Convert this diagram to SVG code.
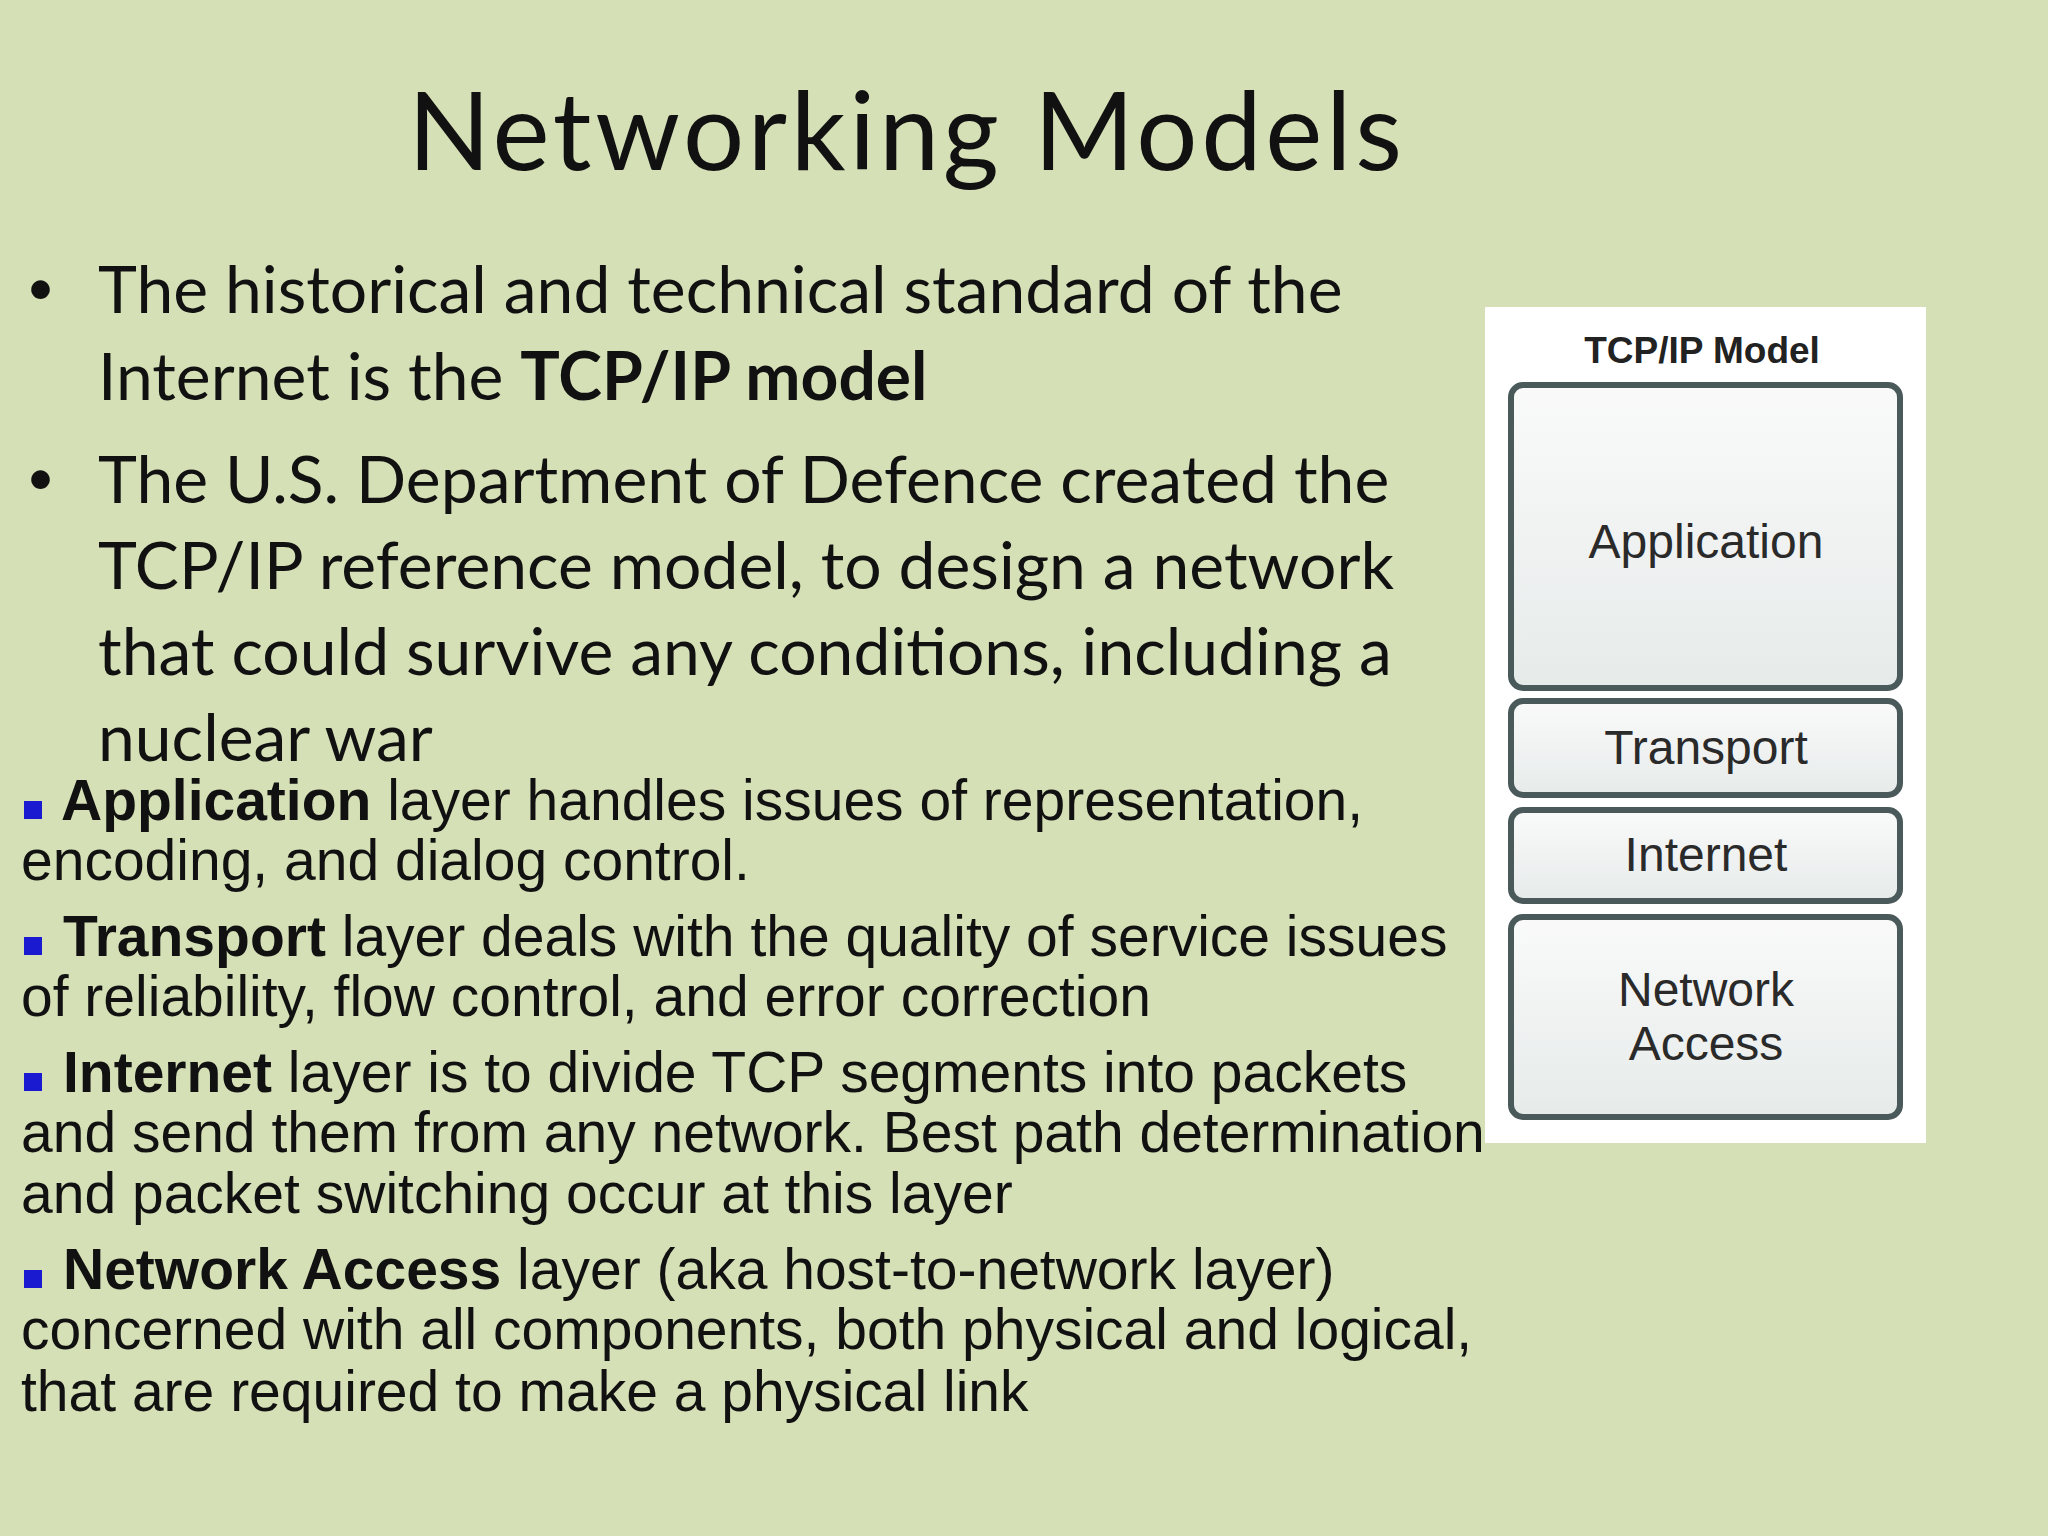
<svg xmlns="http://www.w3.org/2000/svg" width="2048" height="1536" viewBox="0 0 2048 1536">
<style>
.t{font-family:Lato,"Open Sans",sans-serif;font-size:66px;fill:#111}
.b{font-family:Lato,"Open Sans",sans-serif;font-size:50px;fill:#111}
.p{font-family:"Liberation Sans",Arial,sans-serif;font-size:57px;fill:#111}
.l{font-family:"Liberation Sans",Arial,sans-serif;font-size:48px;fill:#2a2a2a;text-anchor:middle}
.box{fill:url(#g);stroke:#4a5a5a;stroke-width:6}
.sq{fill:#1a1ad0}
</style>
<defs><linearGradient id="g" x1="0" y1="0" x2="0" y2="1"><stop offset="0" stop-color="#fafafa"/><stop offset="1" stop-color="#e6ebea"/></linearGradient></defs>
<rect width="2048" height="1536" fill="#d5e0b6"/>
<text x="905" y="170" font-family="Lato,'Open Sans',sans-serif" font-size="108" text-anchor="middle" fill="#111" textLength="994">Networking Models</text>
<g id="bullets">
<text x="26" y="305" class="b">•</text>
<text x="98" y="313" class="t">The historical and technical standard of the</text>
<text x="98" y="400" class="t">Internet is the <tspan font-weight="bold">TCP/IP model</tspan></text>
<text x="26" y="495" class="b">•</text>
<text x="98" y="503" class="t">The U.S. Department of Defence created the</text>
<text x="98" y="589" class="t">TCP/IP reference model, to design a network</text>
<text x="98" y="675" class="t">that could survive any conditions, including a</text>
<text x="98" y="761" class="t">nuclear war</text>
</g>
<g id="layers">
<rect class="sq" x="24" y="801" width="18" height="18"/>
<text x="61" y="820" class="p"><tspan font-weight="bold">Application</tspan> layer handles issues of representation,</text>
<text x="21" y="880" class="p">encoding, and dialog control.</text>
<rect class="sq" x="24" y="937" width="18" height="18"/>
<text x="63" y="956" class="p"><tspan font-weight="bold">Transport</tspan> layer deals with the quality of service issues</text>
<text x="21" y="1016" class="p">of reliability, flow control, and error correction</text>
<rect class="sq" x="24" y="1073" width="18" height="18"/>
<text x="63" y="1092" class="p"><tspan font-weight="bold">Internet</tspan> layer is to divide TCP segments into packets</text>
<text x="21" y="1152" class="p">and send them from any network. Best path determination</text>
<text x="21" y="1213" class="p">and packet switching occur at this layer</text>
<rect class="sq" x="24" y="1270" width="18" height="18"/>
<text x="63" y="1289" class="p"><tspan font-weight="bold">Network Access</tspan> layer (aka host-to-network layer)</text>
<text x="21" y="1349" class="p">concerned with all components, both physical and logical,</text>
<text x="21" y="1411" class="p">that are required to make a physical link</text>
</g>
<g id="panel">
<rect x="1485" y="307" width="441" height="836" fill="#fff"/>
<text x="1702" y="363" font-family="'Liberation Sans',Arial,sans-serif" font-size="37" font-weight="bold" text-anchor="middle" fill="#222">TCP/IP Model</text>
</g>
<g id="app"><rect class="box" x="1511" y="385" width="389" height="303" rx="12"/><text class="l" x="1706" y="558">Application</text></g>
<g id="transport"><rect class="box" x="1511" y="701" width="389" height="94" rx="12"/><text class="l" x="1706" y="764">Transport</text></g>
<g id="internet"><rect class="box" x="1511" y="810" width="389" height="91" rx="12"/><text class="l" x="1706" y="871">Internet</text></g>
<g id="netaccess"><rect class="box" x="1511" y="917" width="389" height="200" rx="12"/><text class="l" x="1706" y="1006">Network</text><text class="l" x="1706" y="1060">Access</text></g>
<g id="connectors"/>
</svg>
